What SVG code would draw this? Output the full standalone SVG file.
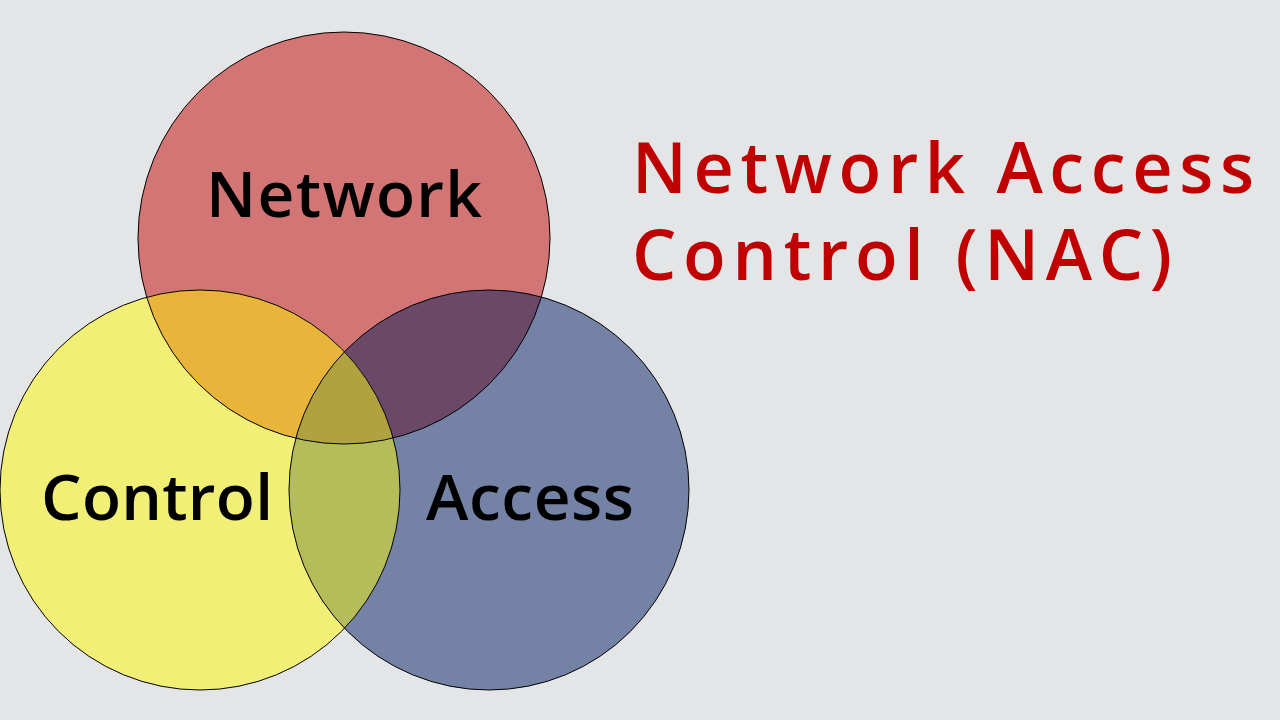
<svg xmlns="http://www.w3.org/2000/svg" width="1280" height="720" viewBox="0 0 1280 720">
<defs>
<style>
.lbl{font-family:"Open Sans","Liberation Sans",sans-serif;font-weight:600;font-size:64px;fill:#000;text-anchor:middle}
.ttl{font-family:"Open Sans","Liberation Sans",sans-serif;font-weight:600;font-size:70px;fill:#c00000}
.ol{fill:none;stroke:#000;stroke-width:1}
</style>
<clipPath id="cN"><circle cx="344" cy="238" r="206"/></clipPath>
<clipPath id="cC"><circle cx="200" cy="490" r="200"/></clipPath>
<clipPath id="cA"><circle cx="489" cy="490" r="200"/></clipPath>
</defs>
<rect width="1280" height="720" fill="#e4e5e7"/>
<g id="circles">
<circle cx="344" cy="238" r="206" fill="#d47575"/>
<circle cx="200" cy="490" r="200" fill="#f2ef77"/>
<circle cx="489" cy="490" r="200" fill="#7483a5"/>
<g clip-path="url(#cN)">
<circle cx="200" cy="490" r="200" fill="#e9b43a"/>
<circle cx="489" cy="490" r="200" fill="#6b4868"/>
</g>
<g clip-path="url(#cC)">
<circle cx="489" cy="490" r="200" fill="#b5bd5a"/>
<g clip-path="url(#cN)"><circle cx="489" cy="490" r="200" fill="#b0a23e"/></g>
</g>
<circle class="ol" cx="344" cy="238" r="206"/>
<circle class="ol" cx="200" cy="490" r="200"/>
<circle class="ol" cx="489" cy="490" r="200"/>
</g>
<g id="network"><text class="lbl" x="344" y="217" textLength="276">Network</text></g>
<g id="control"><text class="lbl" x="157" y="520" textLength="232">Control</text></g>
<g id="access"><text class="lbl" x="530" y="520" textLength="208">Access</text></g>
<g id="title">
<text class="ttl" x="632" y="193" textLength="622" lengthAdjust="spacing">Network Access</text>
<text class="ttl" x="632" y="280" textLength="540" lengthAdjust="spacing">Control (NAC)</text>
</g>
</svg>
